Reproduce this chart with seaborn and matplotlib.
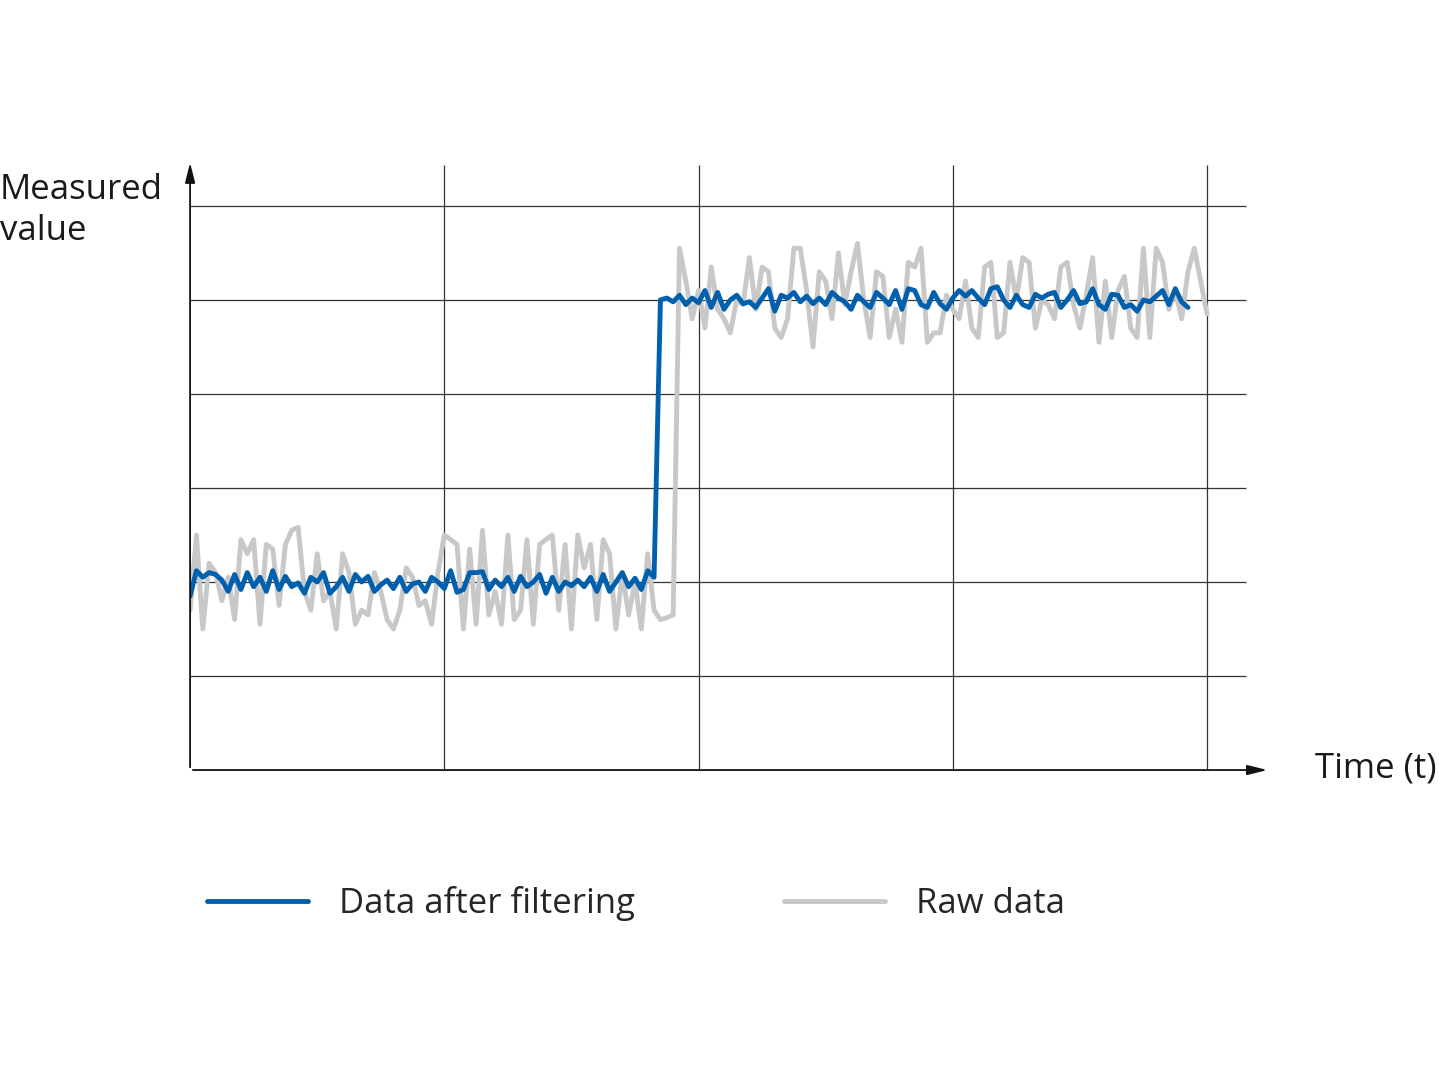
import numpy as np
import matplotlib
matplotlib.use("Agg")
import matplotlib.pyplot as plt
import seaborn as sns

sns.set_style("white")
plt.rcParams['font.family'] = ['Open Sans', 'DejaVu Sans']

STEP = 0.025
filtered_low = [1.85,2.12,2.05,2.10,2.08,2.02,1.90,2.08,1.92,2.10,
                1.95,2.05,1.90,2.12,1.92,2.06,1.95,1.99,1.88,2.05,
                2.00,2.10,1.88,1.95,2.05,1.90,2.08,2.00,2.06,1.90,
                1.97,2.02,1.93,2.05,1.90,1.98,2.00,1.90,2.05,2.00,
                1.93,2.12,1.89,1.92,2.10,2.10,2.11,1.92,2.02,1.95,
                2.05,1.90,2.06,1.95,2.00,2.08,1.88,2.05,1.90,2.00,
                1.96,2.02,1.95,2.05,1.90,2.08,1.90,2.00,2.10,1.95,
                2.04,1.92,2.12,2.05]
filtered_high = [5.00,5.02,4.98,5.05,4.95,5.02,4.97,5.10,4.92,5.08,
                 4.90,5.00,5.05,4.96,4.98,4.92,5.02,5.12,4.88,5.05,
                 5.02,5.08,4.98,5.04,4.96,5.02,4.95,5.08,5.02,4.98,
                 4.90,5.05,4.98,4.92,5.08,5.02,4.95,5.10,4.90,5.12,
                 5.10,4.95,4.92,5.08,4.96,4.90,5.02,5.10,5.04,5.10,
                 5.02,4.95,5.12,5.14,5.00,4.92,5.05,4.95,4.92,5.06,
                 5.02,5.06,5.08,4.92,5.00,5.10,4.96,4.98,5.12,4.95,
                 4.90,5.06,5.05,4.92,4.95,4.88,5.00,4.98,5.04,5.10,
                 4.95,5.12,4.98,4.92]
raw_low = [1.70,2.50,1.50,2.20,2.10,1.80,2.05,1.60,2.45,2.30,
           2.45,1.55,2.40,2.35,1.75,2.40,2.55,2.58,1.90,1.70,
           2.30,1.80,1.90,1.50,2.30,2.10,1.55,1.70,1.65,2.10,
           1.90,1.60,1.50,1.70,2.15,2.05,1.75,1.80,1.55,2.10,
           2.50,2.45,2.40,1.50,2.35,1.55,2.55,1.65,1.90,1.55,
           2.50,1.60,1.70,2.45,1.55,2.40,2.45,2.50,1.70,2.40,
           1.50,2.50,2.15,2.40,1.60,2.45,2.30,1.50,2.10,1.65,
           2.00,1.50,2.30,1.70,1.60,1.62,1.65]
raw_high = [5.55,5.20,4.80,5.10,4.70,5.35,4.90,4.80,4.65,5.00,
            4.95,5.45,4.90,5.35,5.30,4.70,4.60,4.80,5.55,5.55,
            5.10,4.50,5.30,5.20,4.80,5.50,4.95,5.30,5.60,5.00,
            4.60,5.30,5.25,4.60,4.90,4.55,5.40,5.35,5.55,4.55,
            4.65,4.65,5.05,4.90,4.80,5.20,4.70,4.60,5.35,5.40,
            4.60,4.65,5.40,5.00,5.45,5.40,4.70,5.00,4.95,4.80,
            5.35,5.40,4.95,4.70,5.05,5.45,4.55,5.20,4.60,5.10,
            5.25,4.70,4.60,5.55,4.60,5.55,5.40,4.90,5.10,4.80,
            5.30,5.55,5.20,4.85]

filtered = filtered_low + filtered_high
raw = raw_low + raw_high
xf = np.arange(len(filtered)) * STEP
xr = np.arange(len(raw)) * STEP

BLUE = "#0060AE"
GRAY = "#C8C8C8"

fig = plt.figure(figsize=(14.4, 10.8), dpi=100)
ax = fig.add_axes([0.132, 0.287, 0.75, 0.565])
XMAX, YMAX = 4.248, 6.49
ax.set_xlim(0, XMAX)
ax.set_ylim(0, YMAX)

for gx in [1, 2, 3, 4]:
    ax.vlines(gx, 0, 6.43, color="#333333", lw=0.9, zorder=0)
for gy in [1, 2, 3, 4, 5, 6]:
    ax.hlines(gy, 0, 4.155, color="#333333", lw=0.9, zorder=0)

sns.lineplot(x=xr, y=raw, ax=ax, color=GRAY, lw=3.5, sort=False, label="Raw data", zorder=2)
sns.lineplot(x=xf, y=filtered, ax=ax, color=BLUE, lw=3.5, sort=False, label="Data after filtering", zorder=3)

for s in ["top", "right", "left", "bottom"]:
    ax.spines[s].set_visible(False)
ax.annotate("", xy=(XMAX, 0), xytext=(0, 0),
            arrowprops=dict(arrowstyle="-|>,head_length=1.2,head_width=0.3", color="#111111", lw=1.3))
ax.annotate("", xy=(0, YMAX), xytext=(0, 0),
            arrowprops=dict(arrowstyle="-|>,head_length=1.2,head_width=0.3", color="#111111", lw=1.3))
ax.set_xticks([]); ax.set_yticks([])

fig.text(0.0, 0.77, "Measured\nvalue", fontsize=25, va="bottom", ha="left", color="#1a1a1a", linespacing=1.3)
fig.text(0.913, 0.288, "Time (t)", fontsize=25, va="center", ha="left", color="#1a1a1a")

handles, labels = ax.get_legend_handles_labels()
ax.get_legend().remove()
fig.legend(handles[::-1], labels[::-1], loc="center left", bbox_to_anchor=(0.122, 0.163),
           ncol=2, frameon=False, fontsize=25, handlelength=2.9, columnspacing=4.3, handletextpad=0.9)

fig.savefig("out.png", dpi=100)
